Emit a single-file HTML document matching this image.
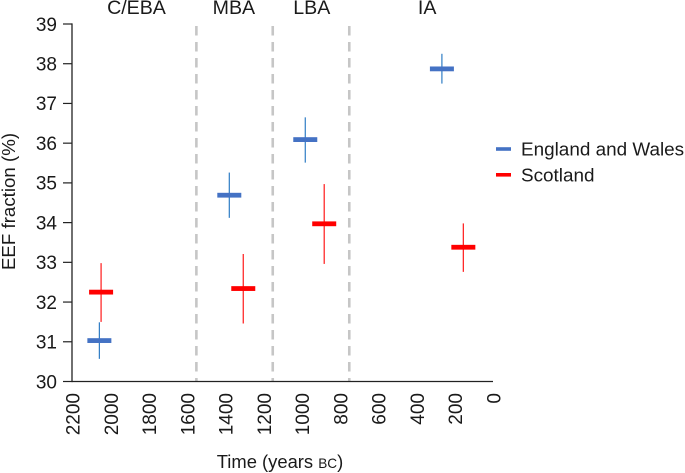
<!DOCTYPE html>
<html>
<head>
<meta charset="utf-8">
<title>EEF fraction over time</title>
<style>
html,body{margin:0;padding:0;background:#fff;width:685px;height:473px;overflow:hidden}
svg{display:block}
text{font-family:"Liberation Sans",sans-serif;fill:#1a1a1a}
</style>
</head>
<body>
<svg id="chart" width="685" height="473" viewBox="0 0 685 473" xmlns="http://www.w3.org/2000/svg">
  <g id="boundaries"></g>
  <g id="axes"></g>
  <g id="periods"></g>
  <g id="series"></g>
  <text transform="translate(15,201.5) rotate(-90)" text-anchor="middle" font-size="18.7">EEF fraction (%)</text>
  <text x="280" y="468" text-anchor="middle" font-size="18.4">Time (years <tspan font-size="13.6">BC</tspan>)</text>
  <g>
    <rect x="496" y="147.2" width="15" height="3.6" fill="#4472c4"></rect>
    <text x="521" y="155.5" font-size="18.9">England and Wales</text>
    <rect x="496" y="173" width="15" height="3.6" fill="#ff0000"></rect>
    <text x="521" y="181.5" font-size="18.9">Scotland</text>
  </g>
</svg>
<script>
const yTicks = [30, 31, 32, 33, 34, 35, 36, 37, 38, 39];
const xTicks = [2200, 2000, 1800, 1600, 1400, 1200, 1000, 800, 600, 400, 200, 0];
const periodBoundaries = [1550, 1151, 751];
const periodNames = ["C/EBA", "MBA", "LBA", "IA"];
const periodCenters = [1863, 1354, 947, 344];
const englandYears = [2057, 1378, 981, 267];
const englandMeans = [31.03, 34.69, 36.09, 37.87];
const englandLows = [30.57, 34.12, 35.51, 37.50];
const englandHighs = [31.49, 35.26, 36.65, 38.25];
const scotlandYears = [2048, 1305, 882, 155];
const scotlandMeans = [32.25, 32.34, 33.97, 33.38];
const scotlandLows = [31.50, 31.46, 32.96, 32.76];
const scotlandHighs = [32.98, 33.21, 34.97, 33.98];

const NS = "http://www.w3.org/2000/svg";
function X(year) { return 72 + (2200 - year) * (421 / 2200); }
function Y(value) { return 381.5 - (value - 30) * (357.5 / 9); }
function make(tag, parent, attrs, txt) {
  const el = document.createElementNS(NS, tag);
  for (const k in attrs) el.setAttribute(k, attrs[k]);
  if (txt !== undefined) el.textContent = txt;
  parent.appendChild(el);
  return el;
}
const axes = document.getElementById("axes");
const AXIS = "#222222";

const yLine = make("line", axes, {x1: 72, x2: 72, y1: Y(39) - 0.6, y2: Y(30) + 0.6, stroke: AXIS, "stroke-width": 1.3});


const xLine = make("line", axes, {x1: 72, x2: X(0), y1: Y(30), y2: Y(30), stroke: AXIS, "stroke-width": 1.3});



yTicks.forEach(function (v) {
  const t = make("line", axes, {x1: 63, x2: 72, y1: Y(v), y2: Y(v), stroke: AXIS, "stroke-width": 1.2});
  
  
  const l = make("text", axes, {x: 57, y: Y(v) + 6.8, "text-anchor": "end", "font-size": 19}, String(v));
  
  
});

xTicks.forEach(function (v) {
  const l = make("text", axes, {transform: "translate(" + (X(v) + 7.5) + ",393) rotate(-90)", "text-anchor": "end", "font-size": 19}, String(v));
  
  
});

const boundaries = document.getElementById("boundaries");
periodBoundaries.forEach(function (b) {
  const d = make("line", boundaries, {x1: X(b), x2: X(b), y1: 26, y2: Y(30), stroke: "#c6c6c6", "stroke-width": 2.6, "stroke-dasharray": "9.5 6.5"});
  
  
});

const periods = document.getElementById("periods");
periodNames.forEach(function (n, i) {
  const t = make("text", periods, {x: X(periodCenters[i]), y: 14, "text-anchor": "middle", "font-size": 19.6}, n);
  
  
});

const seriesRoot = document.getElementById("series");
function drawSeries(years, means, lows, highs, whisker, bar, whiskerW) {
  years.forEach(function (yr, i) {
    const cx = X(yr);
    const w = make("line", seriesRoot, {x1: cx, x2: cx, y1: Y(highs[i]), y2: Y(lows[i]), stroke: whisker, "stroke-width": whiskerW});
    
    
    const m = make("rect", seriesRoot, {x: cx - 12, y: Y(means[i]) - 2.4, width: 24, height: 4.8, fill: bar});
    
    
  });
}
drawSeries(englandYears, englandMeans, englandLows, englandHighs, "#2e7cc4", "#4472c4", 1.2);
drawSeries(scotlandYears, scotlandMeans, scotlandLows, scotlandHighs, "#ff2a2a", "#ff0000", 1.3);
</script>
</body>
</html>
